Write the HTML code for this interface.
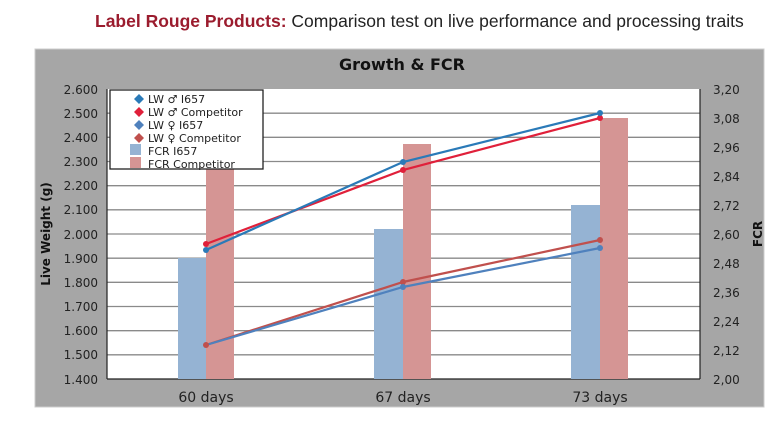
<!DOCTYPE html>
<html><head><style>
body{margin:0;background:#fff;width:784px;height:420px;overflow:hidden;font-family:"Liberation Sans","DejaVu Sans",sans-serif}
</style></head><body>
<svg width="784" height="420" xmlns="http://www.w3.org/2000/svg" font-family="'DejaVu Sans',sans-serif">
<text x="95" y="27" font-family="'Liberation Sans',sans-serif" font-size="17.5" fill="#9b1c2e"><tspan font-weight="bold">Label Rouge Products:</tspan> <tspan fill="#222">Comparison test on live performance and processing traits</tspan></text>
<rect x="35" y="49" width="729" height="358" fill="#a6a6a6" stroke="#ccc"/>
<text x="402" y="70" text-anchor="middle" font-size="16" font-weight="bold" fill="#111">Growth &amp; FCR</text>
<rect x="107" y="89" width="593" height="290" fill="#fff"/>
<g stroke="#8a8a8a" stroke-width="1.3">
<line x1="107" x2="700" y1="113.2" y2="113.2"/><line x1="107" x2="700" y1="137.3" y2="137.3"/><line x1="107" x2="700" y1="161.5" y2="161.5"/><line x1="107" x2="700" y1="185.7" y2="185.7"/><line x1="107" x2="700" y1="209.8" y2="209.8"/><line x1="107" x2="700" y1="234" y2="234"/><line x1="107" x2="700" y1="258.2" y2="258.2"/><line x1="107" x2="700" y1="282.3" y2="282.3"/><line x1="107" x2="700" y1="306.5" y2="306.5"/><line x1="107" x2="700" y1="330.7" y2="330.7"/><line x1="107" x2="700" y1="354.8" y2="354.8"/>
</g>
<g stroke="#222" stroke-width="1.2"><line x1="107" y1="89" x2="107" y2="379"/><line x1="700" y1="89" x2="700" y2="379"/><line x1="107" y1="379" x2="700" y2="379"/></g>
<g fill="#95b3d3"><rect x="178" y="258" width="28" height="121"/><rect x="374" y="229" width="29" height="150"/><rect x="571" y="205" width="29" height="174"/></g>
<g fill="#d59594"><rect x="206" y="150" width="28" height="229"/><rect x="403" y="144" width="28" height="235"/><rect x="600" y="118" width="28" height="261"/></g>
<g font-size="12" fill="#222" text-anchor="end">
<text x="98" y="94">2.600</text><text x="98" y="118">2.500</text><text x="98" y="142">2.400</text><text x="98" y="166">2.300</text><text x="98" y="190">2.200</text><text x="98" y="214">2.100</text><text x="98" y="239">2.000</text><text x="98" y="263">1.900</text><text x="98" y="287">1.800</text><text x="98" y="311">1.700</text><text x="98" y="335">1.600</text><text x="98" y="359">1.500</text><text x="98" y="384">1.400</text>
</g>
<g font-size="12" fill="#222">
<text x="713" y="94">3,20</text><text x="713" y="123">3,08</text><text x="713" y="152">2,96</text><text x="713" y="181">2,84</text><text x="713" y="210">2,72</text><text x="713" y="239">2,60</text><text x="713" y="268">2,48</text><text x="713" y="297">2,36</text><text x="713" y="326">2,24</text><text x="713" y="355">2,12</text><text x="713" y="384">2,00</text>
</g>
<g font-size="14" fill="#222" text-anchor="middle"><text x="206" y="402">60 days</text><text x="403" y="402">67 days</text><text x="600" y="402">73 days</text></g>
<text transform="translate(50,234) rotate(-90)" text-anchor="middle" font-size="12" font-weight="bold" fill="#111">Live Weight (g)</text>
<text transform="translate(762,234) rotate(-90)" text-anchor="middle" font-size="12" font-weight="bold" fill="#111">FCR</text>
<g fill="none" stroke-width="2.2">
<polyline points="206,345 403,282 600,240" stroke="#c0504d"/>
<polyline points="206,345 403,287 600,248" stroke="#4f81bd"/>
<polyline points="206,244 403,170 600,118" stroke="#e0203a"/>
<polyline points="206,250 403,162 600,113" stroke="#2a7ab8"/>
</g>
<g><circle cx="206" cy="345" r="3" fill="#c0504d"/><circle cx="403" cy="282" r="3" fill="#c0504d"/><circle cx="600" cy="240" r="3" fill="#c0504d"/>
<circle cx="403" cy="287" r="3" fill="#4f81bd"/><circle cx="600" cy="248" r="3" fill="#4f81bd"/>
<circle cx="206" cy="244" r="3" fill="#e0203a"/><circle cx="403" cy="170" r="3" fill="#e0203a"/><circle cx="600" cy="118" r="3" fill="#e0203a"/>
<circle cx="206" cy="250" r="3" fill="#2a7ab8"/><circle cx="403" cy="162" r="3" fill="#2a7ab8"/><circle cx="600" cy="113" r="3" fill="#2a7ab8"/></g>
<rect x="110" y="90" width="153" height="79" fill="#fff" stroke="#222" stroke-width="1.3"/>
<g font-size="11" fill="#222">
<path d="M139 94l5 5-5 5-5-5z" fill="#2a7ab8"/><text x="148" y="103">LW ♂ I657</text>
<path d="M139 107l5 5-5 5-5-5z" fill="#e0203a"/><text x="148" y="116">LW ♂ Competitor</text>
<path d="M139 120l5 5-5 5-5-5z" fill="#4f81bd"/><text x="148" y="129">LW ♀ I657</text>
<path d="M139 133l5 5-5 5-5-5z" fill="#c0504d"/><text x="148" y="142">LW ♀ Competitor</text>
<rect x="130" y="144" width="11" height="11" fill="#95b3d3"/><text x="148" y="155">FCR I657</text>
<rect x="130" y="157" width="11" height="11" fill="#d59594"/><text x="148" y="168">FCR Competitor</text>
</g>
</svg>
</body></html>
